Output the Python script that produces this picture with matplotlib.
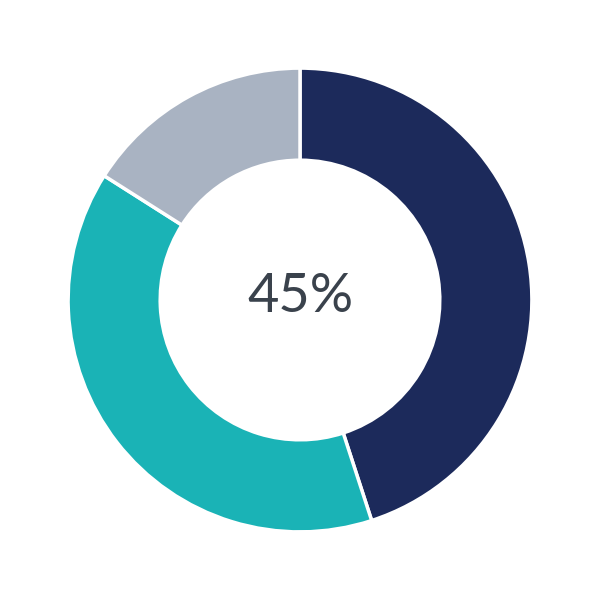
import matplotlib
matplotlib.use('Agg')
import matplotlib.pyplot as plt

# slice shares, clockwise from the top
labels = ["Navy", "Teal", "Gray"]
values = [45, 39, 16]
colors = ["#1c2a5b", "#1ab3b6", "#a9b3c2"]
center_text = "45%"

fig = plt.figure(figsize=(6, 6), dpi=100)
ax = fig.add_axes([0, 0, 1, 1])
ax.pie(values, colors=colors, startangle=90, counterclock=False,
       radius=0.773,
       wedgeprops=dict(width=0.307, edgecolor="white", linewidth=2.5))
ax.set_xlim(-1, 1)
ax.set_ylim(-1, 1)
ax.set_aspect("equal")
ax.axis("off")
ax.text(0, 0.01, center_text, ha="center", va="center", fontsize=39,
        family=["Lato", "DejaVu Sans"], color="#3a424c")

plt.savefig("out.png", dpi=100)
plt.close()
